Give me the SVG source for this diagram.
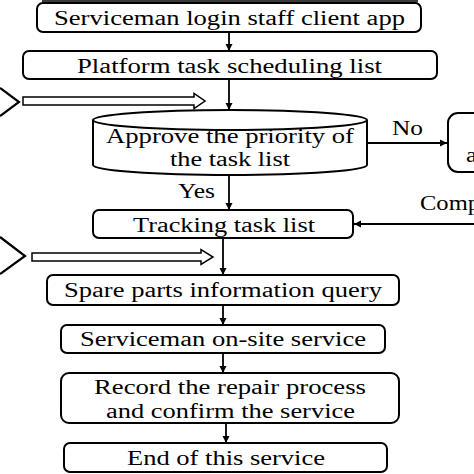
<svg xmlns="http://www.w3.org/2000/svg" width="474" height="474" viewBox="0 0 474 474">
<style>
.box{fill:#fff;stroke:#000;stroke-width:2}
.t{font-family:"Liberation Serif","Times New Roman","DejaVu Serif",serif;font-size:20px;fill:#000;text-anchor:middle}
.tl{font-family:"Liberation Serif","Times New Roman","DejaVu Serif",serif;font-size:20px;fill:#000}
.c{stroke:#000;stroke-width:1.8;fill:none}
.hollow{fill:#fff;stroke:#000;stroke-width:1.5}
.chev{fill:none;stroke:#000;stroke-width:2.2}
</style>
<defs>
<marker id="ah" viewBox="0 0 10 10" refX="10" refY="5" markerWidth="4" markerHeight="4" orient="auto" markerUnits="strokeWidth">
<path d="M0,0 L10,5 L0,10 z" fill="#000"/>
</marker>
</defs>
<rect x="0" y="0" width="474" height="474" fill="#fff"/>
<rect x="42" y="0" width="376" height="2.5" fill="#3a3a3a"/>

<g id="connectors">
<line class="c" x1="229" y1="32" x2="229" y2="51" marker-end="url(#ah)"/>
<line class="c" x1="229" y1="79" x2="229" y2="110" marker-end="url(#ah)"/>
<line class="c" x1="367" y1="143" x2="447" y2="143" marker-end="url(#ah)"/>
<line class="c" x1="229" y1="175" x2="229" y2="210" marker-end="url(#ah)"/>
<line class="c" x1="474" y1="224" x2="354" y2="224" marker-end="url(#ah)"/>
<line class="c" x1="223" y1="238" x2="223" y2="275" marker-end="url(#ah)"/>
<line class="c" x1="223" y1="305" x2="223" y2="325" marker-end="url(#ah)"/>
<line class="c" x1="223" y1="353" x2="223" y2="373" marker-end="url(#ah)"/>
<line class="c" x1="226" y1="423" x2="226" y2="443" marker-end="url(#ah)"/>
<polygon class="hollow" points="23,97 194,97 194,93.5 205,101 194,108.5 194,105 23,105"/>
<polygon class="hollow" points="32,253 201,253 201,249.5 213,257 201,264.5 201,261 32,261"/>
<polyline class="chev" points="0,88 19,102 0,116"/>
<polyline class="chev" points="0,237 25,256 0,274"/>
<text class="tl" x="392" y="135" textLength="31" lengthAdjust="spacingAndGlyphs">No</text>
<text class="tl" x="178" y="198" textLength="37" lengthAdjust="spacingAndGlyphs">Yes</text>
<text class="tl" x="420" y="210" textLength="60" lengthAdjust="spacingAndGlyphs">Comp</text>
</g>

<g id="n1">
<rect class="box" x="37" y="3" width="384" height="29" rx="6"/>
<text class="t" x="229.5" y="25" textLength="351" lengthAdjust="spacingAndGlyphs">Serviceman login staff client app</text>
</g>
<g id="n2">
<rect class="box" x="23" y="51" width="414" height="28" rx="6"/>
<text class="t" x="229.5" y="73" textLength="305" lengthAdjust="spacingAndGlyphs">Platform task scheduling list</text>
</g>
<g id="n3">
<path class="box" d="M93,120 L93,165 A137,10 0 0 0 367,165 L367,120"/>
<ellipse class="box" cx="230" cy="120" rx="137" ry="10"/>
<text class="t" x="230" y="143" textLength="248" lengthAdjust="spacingAndGlyphs">Approve the priority of</text>
<text class="t" x="230" y="166" textLength="120" lengthAdjust="spacingAndGlyphs">the task list</text>
</g>
<g id="n4">
<rect class="box" x="448" y="113" width="40" height="59" rx="10"/>
<text class="tl" x="466" y="162" textLength="11" lengthAdjust="spacingAndGlyphs">a</text>
</g>
<g id="n5">
<rect class="box" x="93" y="210" width="260" height="28" rx="6"/>
<text class="t" x="224" y="232" textLength="182" lengthAdjust="spacingAndGlyphs">Tracking task list</text>
</g>
<g id="n6">
<rect class="box" x="47" y="275" width="352" height="30" rx="6"/>
<text class="t" x="223" y="297" textLength="318" lengthAdjust="spacingAndGlyphs">Spare parts information query</text>
</g>
<g id="n7">
<rect class="box" x="61" y="325" width="324" height="28" rx="6"/>
<text class="t" x="223" y="346" textLength="286" lengthAdjust="spacingAndGlyphs">Serviceman on-site service</text>
</g>
<g id="n8">
<rect class="box" x="61" y="373" width="338" height="50" rx="8"/>
<text class="t" x="230" y="394" textLength="272" lengthAdjust="spacingAndGlyphs">Record the repair process</text>
<text class="t" x="230.5" y="418" textLength="249" lengthAdjust="spacingAndGlyphs">and confirm the service</text>
</g>
<g id="n9">
<rect class="box" x="64" y="443" width="323" height="29" rx="6"/>
<text class="t" x="226" y="465" textLength="198" lengthAdjust="spacingAndGlyphs">End of this service</text>
</g>
</svg>
